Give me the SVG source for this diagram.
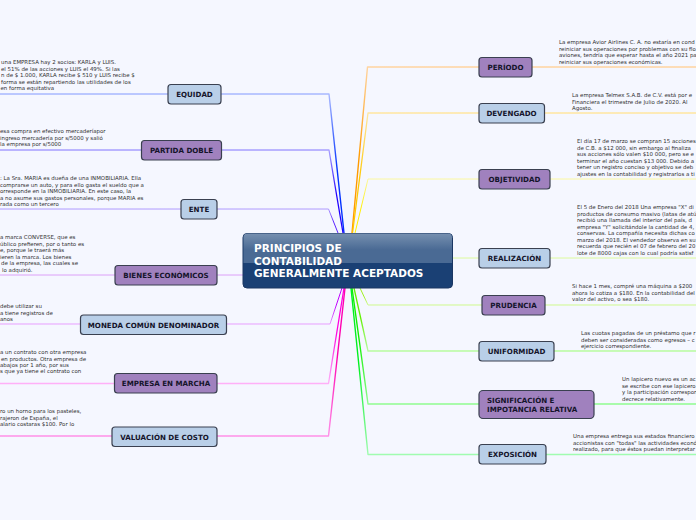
<svg xmlns="http://www.w3.org/2000/svg" width="696" height="520" viewBox="0 0 696 520">
<style>
.t{font-family:"DejaVu Sans",Verdana,sans-serif;font-size:5.45px;fill:#303030}
.n{font-family:"DejaVu Sans",Verdana,sans-serif;font-size:7.1px;font-weight:700;fill:#14142a}
.b{stroke:#3a4050;stroke-width:1.2}
.blue{fill:#b9cfe8}
.pur{fill:#a081be}
.c{fill:none;stroke-linejoin:round}
</style>
<defs>
<linearGradient id="hub" x1="0" y1="0" x2="0" y2="1"><stop offset="0" stop-color="#7690b0"/><stop offset="0.55" stop-color="#4a6a94"/></linearGradient>
<linearGradient gradientUnits="userSpaceOnUse" id="g1" x1="0" y1="233" x2="0" y2="94"><stop offset="0" stop-color="#0030ff"/><stop offset="0.45" stop-color="#0030ff"/><stop offset="1" stop-color="#a8b8ff"/></linearGradient>
<linearGradient gradientUnits="userSpaceOnUse" id="g2" x1="0" y1="233" x2="0" y2="150"><stop offset="0" stop-color="#2000ff"/><stop offset="0.45" stop-color="#2000ff"/><stop offset="1" stop-color="#a8a0ff"/></linearGradient>
<linearGradient gradientUnits="userSpaceOnUse" id="g3" x1="0" y1="233" x2="0" y2="209"><stop offset="0" stop-color="#5a20ff"/><stop offset="0.45" stop-color="#5a20ff"/><stop offset="1" stop-color="#b09cff"/></linearGradient>
<linearGradient gradientUnits="userSpaceOnUse" id="g5" x1="0" y1="288" x2="0" y2="324"><stop offset="0" stop-color="#c000ff"/><stop offset="0.45" stop-color="#c000ff"/><stop offset="1" stop-color="#e8a0ff"/></linearGradient>
<linearGradient gradientUnits="userSpaceOnUse" id="g6" x1="0" y1="288" x2="0" y2="383"><stop offset="0" stop-color="#ff00e0"/><stop offset="0.45" stop-color="#ff00e0"/><stop offset="1" stop-color="#ffb0f8"/></linearGradient>
<linearGradient gradientUnits="userSpaceOnUse" id="g7" x1="0" y1="288" x2="0" y2="436"><stop offset="0" stop-color="#ff00b0"/><stop offset="0.45" stop-color="#ff00b0"/><stop offset="1" stop-color="#ff90e8"/></linearGradient>
<linearGradient gradientUnits="userSpaceOnUse" id="g8" x1="0" y1="233" x2="0" y2="67"><stop offset="0" stop-color="#ff9a00"/><stop offset="0.45" stop-color="#ff9a00"/><stop offset="1" stop-color="#ffd4a0"/></linearGradient>
<linearGradient gradientUnits="userSpaceOnUse" id="g9" x1="0" y1="233" x2="0" y2="113"><stop offset="0" stop-color="#ffc800"/><stop offset="0.45" stop-color="#ffc800"/><stop offset="1" stop-color="#ffe6a0"/></linearGradient>
<linearGradient gradientUnits="userSpaceOnUse" id="g10" x1="0" y1="233" x2="0" y2="179"><stop offset="0" stop-color="#fff000"/><stop offset="0.45" stop-color="#fff000"/><stop offset="1" stop-color="#fbf8a0"/></linearGradient>
<linearGradient gradientUnits="userSpaceOnUse" id="g12" x1="0" y1="288" x2="0" y2="305"><stop offset="0" stop-color="#a0f020"/><stop offset="0.45" stop-color="#a0f020"/><stop offset="1" stop-color="#d0fa90"/></linearGradient>
<linearGradient gradientUnits="userSpaceOnUse" id="g13" x1="0" y1="288" x2="0" y2="351"><stop offset="0" stop-color="#60f000"/><stop offset="0.45" stop-color="#60f000"/><stop offset="1" stop-color="#b8fca0"/></linearGradient>
<linearGradient gradientUnits="userSpaceOnUse" id="g14" x1="0" y1="288" x2="0" y2="404"><stop offset="0" stop-color="#10f000"/><stop offset="0.45" stop-color="#10f000"/><stop offset="1" stop-color="#90fc90"/></linearGradient>
<linearGradient gradientUnits="userSpaceOnUse" id="g15" x1="0" y1="288" x2="0" y2="454"><stop offset="0" stop-color="#00f020"/><stop offset="0.45" stop-color="#00f020"/><stop offset="1" stop-color="#a0fcb0"/></linearGradient>
</defs>
<rect width="696" height="520" fill="#f5f7ff"/>
<g id="connectors" class="c">
<path class="c" stroke="url(#g1)" stroke-width="1.4" d="M344 233L329 94H0"/>
<path class="c" stroke="url(#g2)" stroke-width="1.3" d="M343 233L329 150H0"/>
<path class="c" stroke="url(#g3)" stroke-width="1" d="M338 233L328.500 209H0"/>
<path class="c" stroke="#dca0f8" stroke-width="1" d="M243 275H0"/>
<path class="c" stroke="url(#g5)" stroke-width="1" d="M342 288L330 324H0"/>
<path class="c" stroke="url(#g6)" stroke-width="1.3" d="M344 288L328.500 383.500H0"/>
<path class="c" stroke="url(#g7)" stroke-width="1.4" d="M345 288L328.500 436H0"/>
<path class="c" stroke="url(#g8)" stroke-width="1.4" d="M352 233L367.500 67H696"/>
<path class="c" stroke="url(#g9)" stroke-width="1.3" d="M352.500 233L368 113H696"/>
<path class="c" stroke="url(#g10)" stroke-width="1" d="M355 233L368 179H696"/>
<path class="c" stroke="#dcfa9c" stroke-width="1" d="M453 258H696"/>
<path class="c" stroke="url(#g12)" stroke-width="1" d="M360 288L368 305H696"/>
<path class="c" stroke="url(#g13)" stroke-width="1.3" d="M354 288L368 351H696"/>
<path class="c" stroke="url(#g14)" stroke-width="1.4" d="M352 288L368 404H696"/>
<path class="c" stroke="url(#g15)" stroke-width="1.4" d="M351 288L368 454.500H696"/>
</g>
<g id="root">
<rect x="243" y="233.500" width="209.500" height="54.500" rx="4" fill="#1a4074" stroke="#1b3763" stroke-width="1"/>
<path d="M243.500 263V237.500a4 4 0 0 1 4-4H448a4 4 0 0 1 4 4V263Z" fill="url(#hub)"/>
<text font-family="'DejaVu Sans',Verdana,sans-serif" font-size="10.500" font-weight="700" fill="#fff"><tspan x="254" y="252">PRINCIPIOS DE</tspan><tspan x="254" y="265">CONTABILIDAD</tspan><tspan x="254" y="277">GENERALMENTE ACEPTADOS</tspan></text>
</g>
<g id="equidad"><rect class="b blue" x="168" y="84.500" width="53" height="19.500" rx="3"/><text class="n" x="194.500" y="97" text-anchor="middle">EQUIDAD</text>
<text class="t"><tspan x="1" y="64">una EMPRESA hay 2 socios: KARLA y LUIS.</tspan><tspan x="1" y="70.500">el 51% de las acciones y LUIS el 49%. Si las</tspan><tspan x="1" y="77">n de $ 1.000, KARLA recibe $ 510 y LUIS recibe $</tspan><tspan x="1" y="83.500">forma se están repartiendo las utilidades de los</tspan><tspan x="0.500" y="90">en forma equitativa</tspan></text></g>
<g id="partida-doble"><rect class="b pur" x="141.500" y="140.500" width="80" height="19.500" rx="3"/><text class="n" x="181.500" y="153" text-anchor="middle">PARTIDA DOBLE</text>
<text class="t"><tspan x="0" y="133">esa compra en efectivo mercaderíapor</tspan><tspan x="0" y="139.500">ingreso mercadería por s/5000 y salió</tspan><tspan x="0" y="146">la empresa por s/5000</tspan></text></g>
<g id="ente"><rect class="b blue" x="181" y="199.500" width="36" height="19.500" rx="3"/><text class="n" x="199" y="212" text-anchor="middle">ENTE</text>
<text class="t"><tspan x="0" y="180">: La Sra. MARIA es dueña de una INMOBILIARIA. Ella</tspan><tspan x="0" y="186.500">comprarse un auto, y para ello gasta el sueldo que a</tspan><tspan x="0" y="193">orresponde en la INMOBILIARIA. En este caso, la</tspan><tspan x="0" y="199.500">a no asume sus gastos personales, porque MARIA es</tspan><tspan x="0" y="206">rada como un tercero</tspan></text></g>
<g id="bienes"><rect class="b pur" x="115" y="265.500" width="102" height="19.500" rx="3"/><text class="n" x="166" y="278" text-anchor="middle">BIENES ECONÓMICOS</text>
<text class="t"><tspan x="0" y="239">a marca CONVERSE, que es</tspan><tspan x="0" y="245.500">úblico prefieren, por o tanto es</tspan><tspan x="0" y="252">e, porque le traerá más</tspan><tspan x="0" y="258.500">ieren la marca. Los bienes</tspan><tspan x="1" y="265">de la empresa, las cuales se</tspan><tspan x="2" y="271.500">lo adquirió.</tspan></text></g>
<g id="moneda"><rect class="b blue" x="80.500" y="315" width="146" height="19.500" rx="3"/><text class="n" x="153.500" y="327.500" text-anchor="middle">MONEDA COMÚN DENOMINADOR</text>
<text class="t"><tspan x="0" y="308">debe utilizar su</tspan><tspan x="0" y="314.500">a tiene registros de</tspan><tspan x="0" y="321">anos</tspan></text></g>
<g id="empresa"><rect class="b pur" x="114.500" y="373.500" width="102.500" height="19.500" rx="3"/><text class="n" x="166" y="386" text-anchor="middle">EMPRESA EN MARCHA</text>
<text class="t"><tspan x="0" y="354">a un contrato con otra empresa</tspan><tspan x="1" y="360.500">en productos. Otra empresa de</tspan><tspan x="0" y="367">abajos por 1 año, por sus</tspan><tspan x="0" y="373">s que ya tiene el contrato con</tspan></text></g>
<g id="valuacion"><rect class="b blue" x="112" y="427" width="105" height="19.500" rx="3"/><text class="n" x="164.500" y="439.500" text-anchor="middle">VALUACIÓN DE COSTO</text>
<text class="t"><tspan x="0" y="413">ro un horno para los pasteles,</tspan><tspan x="0" y="419.500">rajeron de España, el</tspan><tspan x="0" y="426">alario costaras $100. Por lo</tspan></text></g>
<g id="periodo"><rect class="b pur" x="479" y="57.500" width="53" height="19.500" rx="3"/><text class="n" x="505.500" y="70" text-anchor="middle">PERÍODO</text>
<text class="t"><tspan x="559" y="44">La empresa Avior Airlines C. A. no estaría en cond</tspan><tspan x="559" y="50.500">reiniciar sus operaciones por problemas con su flo</tspan><tspan x="559" y="57">aviones, tendría que esperar hasta el año 2021 pa</tspan><tspan x="559" y="63.500">reiniciar sus operaciones económicas.</tspan></text></g>
<g id="devengado"><rect class="b blue" x="479" y="103.500" width="65.500" height="19.500" rx="3"/><text class="n" x="511.500" y="116" text-anchor="middle">DEVENGADO</text>
<text class="t"><tspan x="572" y="97">La empresa Telmex S.A.B. de C.V. está por e</tspan><tspan x="572" y="103.500">Financiera el trimestre de Julio de 2020. Al</tspan><tspan x="572" y="110">Agosto.</tspan></text></g>
<g id="objetividad"><rect class="b pur" x="479" y="169.500" width="71" height="19.500" rx="3"/><text class="n" x="514.500" y="182" text-anchor="middle">OBJETIVIDAD</text>
<text class="t"><tspan x="577" y="143">El día 17 de marzo se compran 15 acciones</tspan><tspan x="577" y="149.500">de C.B.  a $12 000, sin embargo al finaliza</tspan><tspan x="577" y="156">sus acciones sólo valen $10 000, pero se e</tspan><tspan x="577" y="162.500">terminar el año cuestan $13 000. Debido a</tspan><tspan x="577" y="169">tener un registro conciso y objetivo se deb</tspan><tspan x="577" y="175.500">ajustes en la contabilidad y registrarlos a ti</tspan></text></g>
<g id="realizacion"><rect class="b blue" x="479" y="248.500" width="71" height="19.500" rx="3"/><text class="n" x="514.500" y="261" text-anchor="middle">REALIZACIÓN</text>
<text class="t"><tspan x="577" y="209">El 5 de Enero del 2018 Una empresa "X" di</tspan><tspan x="577" y="215.500">productos de consumo masivo (latas de atú</tspan><tspan x="577" y="222">recibió una llamada  del interior del país, d</tspan><tspan x="577" y="228.500">empresa "Y" solicitándole la cantidad de 4,</tspan><tspan x="577" y="235">conservas. La compañía necesita dichas co</tspan><tspan x="577" y="241.500">marzo del 2018. El vendedor observa en su</tspan><tspan x="577" y="248">recuerda que recién el 07 de febrero del 20</tspan><tspan x="577" y="254.500">lote de 8000 cajas con lo cual podría satisf</tspan></text></g>
<g id="prudencia"><rect class="b pur" x="482" y="295.500" width="63" height="19.500" rx="3"/><text class="n" x="513.500" y="308" text-anchor="middle">PRUDENCIA</text>
<text class="t"><tspan x="572" y="288">Si hace 1 mes, compré una máquina a $200</tspan><tspan x="572" y="295">ahora lo cotiza a $180. En la contabilidad del</tspan><tspan x="572" y="301">valor del activo, o sea $180.</tspan></text></g>
<g id="uniformidad"><rect class="b blue" x="479" y="341.500" width="75" height="19.500" rx="3"/><text class="n" x="516.500" y="354" text-anchor="middle">UNIFORMIDAD</text>
<text class="t"><tspan x="581" y="335">Las cuotas pagadas de un préstamo que r</tspan><tspan x="581" y="341.500">deben ser consideradas como egresos – c</tspan><tspan x="581" y="348">ejercicio correspondiente.</tspan></text></g>
<g id="significacion"><rect class="b pur" x="479" y="390.500" width="115" height="28" rx="4"/><text class="n"><tspan x="487" y="403">SIGNIFICACIÓN E</tspan><tspan x="487" y="411.500">IMPOTANCIA RELATIVA</tspan></text>
<text class="t"><tspan x="622" y="381">Un lapicero nuevo es un ac</tspan><tspan x="622" y="387.500">se escribe con ese lapicero</tspan><tspan x="622" y="394">y la participación correspon</tspan><tspan x="622" y="400.500">decrece relativamente.</tspan></text></g>
<g id="exposicion"><rect class="b blue" x="479" y="444.500" width="67" height="19.500" rx="3"/><text class="n" x="512.500" y="457" text-anchor="middle">EXPOSICIÓN</text>
<text class="t"><tspan x="573" y="438">Una empresa entrega sus estados financiero</tspan><tspan x="573" y="444.500">accionistas con "todas" las actividades econó</tspan><tspan x="573" y="451">realizado, para que éstos puedan interpretar</tspan></text></g>
</svg>
